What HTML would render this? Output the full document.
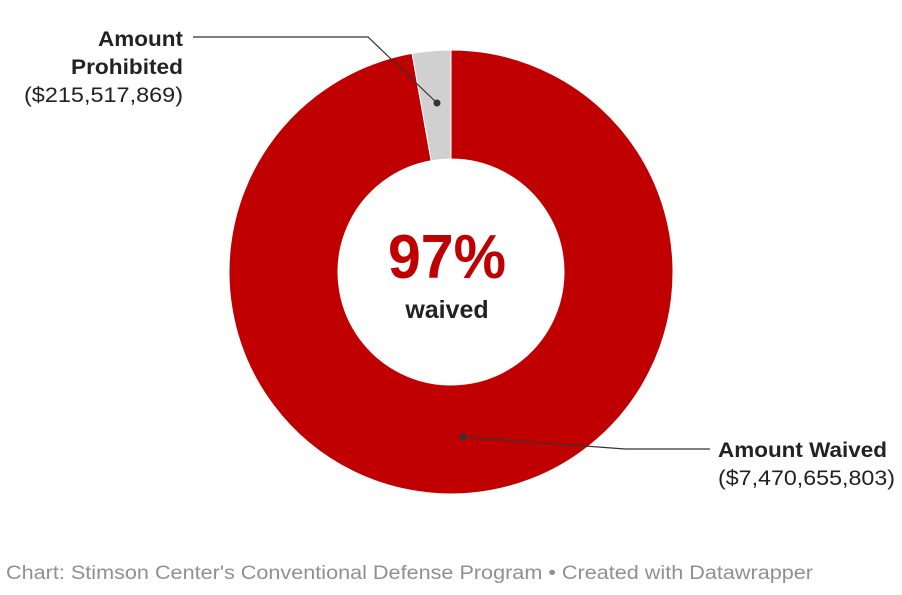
<!DOCTYPE html>
<html><head><meta charset="utf-8"><style>
body{margin:0;background:#fff;width:902px;height:590px;overflow:hidden;font-family:"Liberation Sans",Arial,sans-serif;}
</style></head><body>
<svg width="902" height="590">
<g id="slices"></g>
<text x="447" y="278" text-anchor="middle" font-size="62" font-weight="bold" fill="#c00000" textLength="118" lengthAdjust="spacingAndGlyphs">97%</text>
<text x="447" y="318" text-anchor="middle" font-size="25" font-weight="bold" fill="#222">waived</text>
<g>
<text x="183" y="46" text-anchor="end" font-size="21" font-weight="bold" fill="#222" textLength="85" lengthAdjust="spacingAndGlyphs">Amount</text>
<text x="183" y="74" text-anchor="end" font-size="21" font-weight="bold" fill="#222" textLength="112" lengthAdjust="spacingAndGlyphs">Prohibited</text>
<text x="183" y="102" text-anchor="end" font-size="21" fill="#222" textLength="159" lengthAdjust="spacingAndGlyphs">($215,517,869)</text>
</g>
<polyline points="193,37 368,37 437,103" fill="none" stroke="#333" stroke-width="1.2"/>
<circle cx="437" cy="103" r="3.5" fill="#333"/>
<g>
<text x="718" y="457" font-size="21" font-weight="bold" fill="#222" textLength="169" lengthAdjust="spacingAndGlyphs">Amount Waived</text>
<text x="718" y="485" font-size="21" fill="#222" textLength="177" lengthAdjust="spacingAndGlyphs">($7,470,655,803)</text>
</g>
<polyline points="463,437 625,449 710,449" fill="none" stroke="#333" stroke-width="1.2"/>
<circle cx="463" cy="437" r="3.5" fill="#333"/>
<text x="6" y="579" font-size="19" fill="#909090" textLength="807" lengthAdjust="spacingAndGlyphs">Chart: Stimson Center's Conventional Defense Program • Created with Datawrapper</text>
</svg>
<script>
const categories=["Amount Waived","Amount Prohibited"];
const values=[7470655803,215517869];
const colors=["#c00000","#d0d0d0"];
const cx=451,cy=272,R=222,r=113;
const g=document.getElementById('slices');
const total=values.reduce((a,b)=>a+b,0);
function pt(a,rad){return [cx+rad*Math.sin(a),cy-rad*Math.cos(a)];}
let a0=0;
values.forEach((v,i)=>{
  const a1=a0+v/total*2*Math.PI;
  const big=(a1-a0)>Math.PI?1:0;
  const [x0,y0]=pt(a0,R),[x1,y1]=pt(a1,R),[x2,y2]=pt(a1,r),[x3,y3]=pt(a0,r);
  const p=document.createElementNS('http://www.w3.org/2000/svg','path');
  p.setAttribute('d',`M${x0},${y0}A${R},${R} 0 ${big} 1 ${x1},${y1}L${x2},${y2}A${r},${r} 0 ${big} 0 ${x3},${y3}Z`);
  p.setAttribute('fill',colors[i]);
  p.setAttribute('stroke','#fff');
  p.setAttribute('stroke-width','1');
  
  
  g.appendChild(p);
  a0=a1;
});
</script>
</body></html>
